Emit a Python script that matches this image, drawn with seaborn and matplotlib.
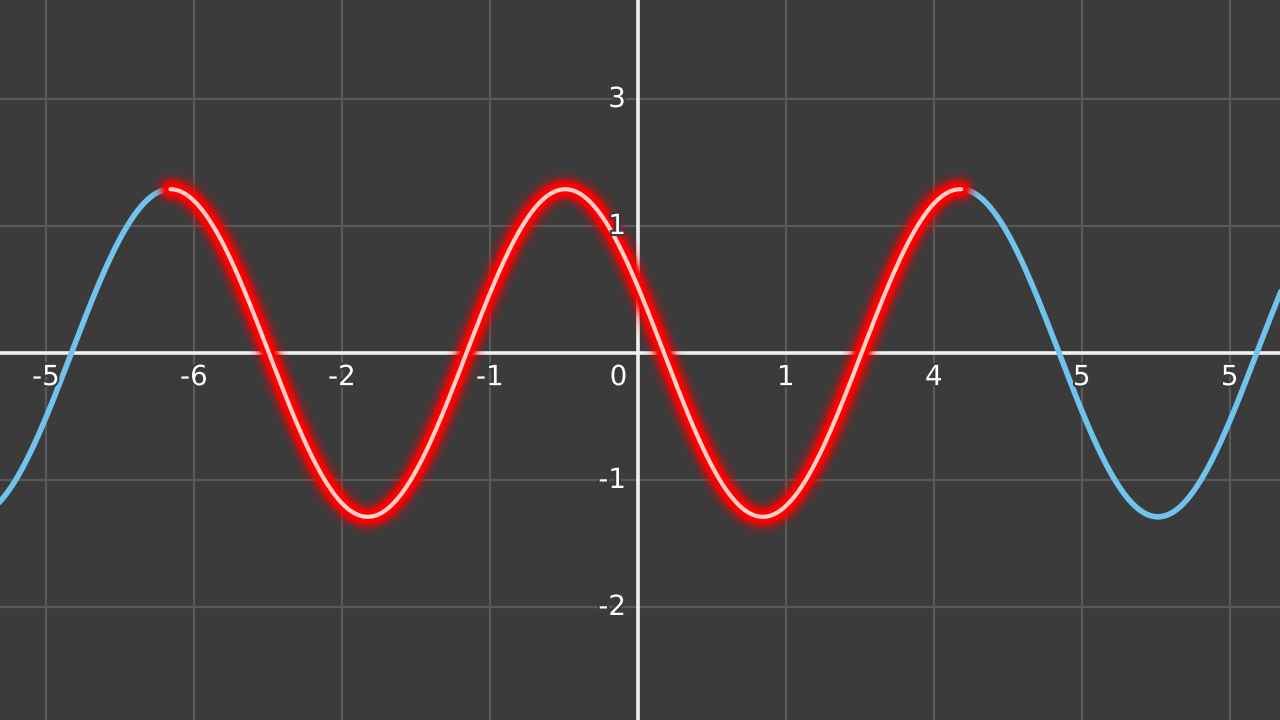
import numpy as np
import pandas as pd
import seaborn as sns
import matplotlib.pyplot as plt
import matplotlib.patheffects as pe

# curve: y = amp * cos(2*pi*(x - peak_x) / period)
amp = 1.29
period = 2.67
peak_x = -0.49
red_start, red_end = -3.16, 2.19

# grid / tick positions and the labels as printed in the picture
x_ticks = [-4, -3, -2, -1, 0, 1, 2, 3, 4]
x_labels = ["-5", "-6", "-2", "-1", "0", "1", "4", "5", "5"]
y_ticks = [-2, -1, 1, 2]
y_labels = ["-2", "-1", "1", "3"]

bg = "#3b3b3b"
grid_col = "#5a5a5a"
sns.set_style("dark", {"axes.facecolor": bg, "figure.facecolor": bg})
plt.rcParams["font.family"] = ["DejaVu Sans"]

x = np.linspace(-4.4, 4.4, 2000)
y = amp * np.cos(2 * np.pi * (x - peak_x) / period)
df = pd.DataFrame({"x": x, "y": y})
df["part"] = np.where((df.x >= red_start) & (df.x <= red_end), "red", "blue")

fig = plt.figure(figsize=(12.8, 7.2), dpi=100)
ax = fig.add_axes([0, 0, 1, 1])
ax.set_xlim(-4.31, 4.34)
ax.set_ylim(-2.89, 2.78)

for xt in x_ticks:
    ax.axvline(xt, color=grid_col, lw=1.6, zorder=0)
for yt in y_ticks:
    ax.axhline(yt, color=grid_col, lw=1.6, zorder=0)
ax.axhline(0, color="#f2f2f2", lw=2.6, zorder=1)
ax.axvline(0, color="#f2f2f2", lw=2.6, zorder=1)

# blue parts (left and right of the red section)
left = df[df.x < red_start]
right = df[df.x > red_end]
sns.lineplot(data=left, x="x", y="y", color="#6fc3ec", lw=4, ax=ax, zorder=3)
sns.lineplot(data=right, x="x", y="y", color="#6fc3ec", lw=4, ax=ax, zorder=3)

# red glowing section
red = df[df.part == "red"]
for w, a in [(26, 0.08), (21, 0.13), (17, 0.22), (14, 0.38), (11, 0.65), (8, 1.0)]:
    sns.lineplot(data=red, x="x", y="y", color="#ff0000", lw=w, alpha=a,
                 ax=ax, zorder=3, solid_capstyle="round")
sns.lineplot(data=red, x="x", y="y", color="#ffd0c8", lw=3, ax=ax, zorder=4)

shadow = [pe.withStroke(linewidth=3, foreground=bg)]
for xt, lab in zip(x_ticks, x_labels):
    xp = -0.13 if xt == 0 else xt
    ax.text(xp, -0.19, lab, color="white", fontsize=20, ha="center", va="center",
            zorder=5, path_effects=shadow)
for yt, lab in zip(y_ticks, y_labels):
    ax.text(-0.08, yt, lab, color="white", fontsize=20, ha="right", va="center",
            zorder=5, path_effects=shadow)

ax.set_xticks([])
ax.set_yticks([])
ax.set_xlabel("")
ax.set_ylabel("")
for s in ax.spines.values():
    s.set_visible(False)

fig.savefig("out.png", dpi=100, facecolor=bg)
